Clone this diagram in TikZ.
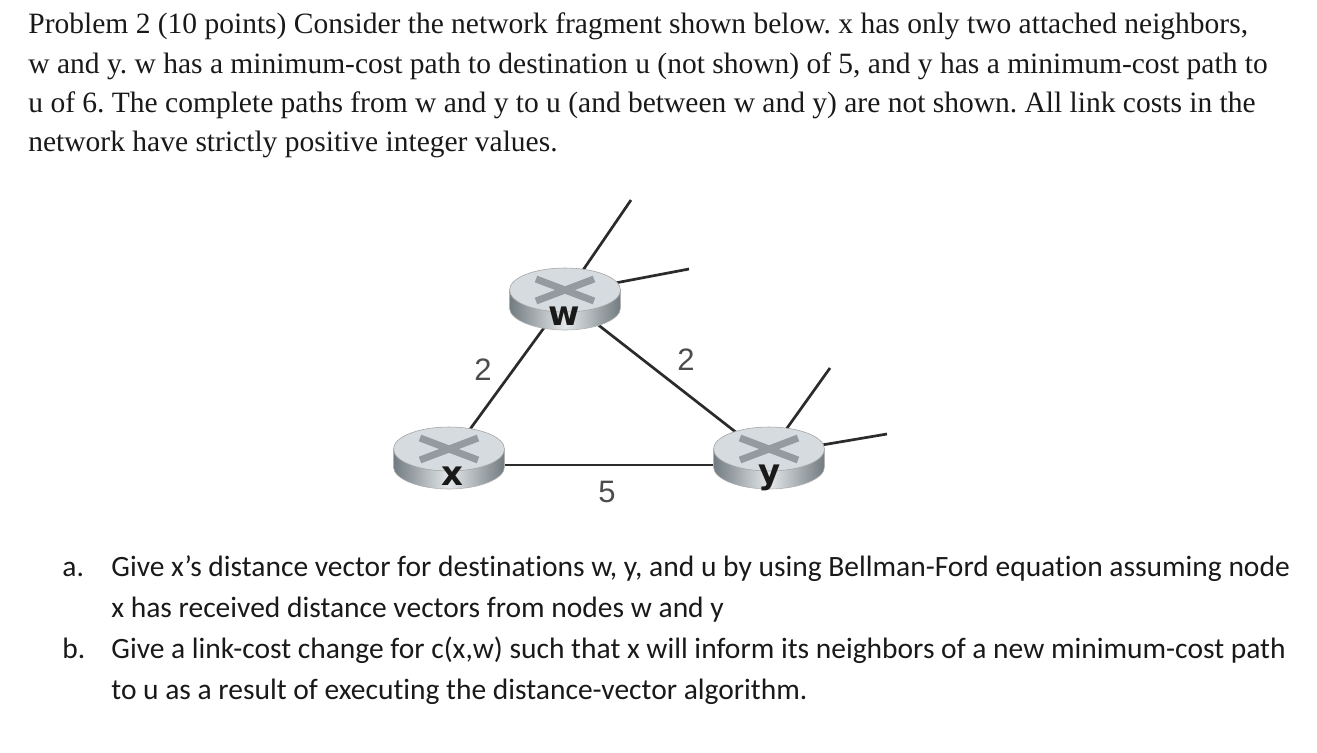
\documentclass[tikz,border=0pt]{standalone}
\usepackage{fontspec}
\setmainfont{Liberation Serif}
\setsansfont{Liberation Sans}
\newfontfamily\bodyfont[Ligatures=NoCommon]{Carlito}
\newfontfamily\labelfont{DejaVu Sans}
\usetikzlibrary{shapes.geometric}
\definecolor{router_top}{HTML}{D6DBDF}
\definecolor{router_dark}{HTML}{727B80}
\definecolor{router_light}{HTML}{E4E8EA}
\definecolor{router_cross}{HTML}{939BA0}
\definecolor{link_col}{HTML}{2B2B2B}
\tikzstyle{router_node} = [ellipse, minimum width=55.5pt, minimum height=31pt, inner sep=0pt, outer sep=0pt]
\tikzstyle{link_line} = [draw=link_col, line width=1.35pt]
\tikzstyle{cost_label} = [font=\sffamily\fontsize{15.5}{18}\selectfont, text=black!70, inner sep=0pt]
\tikzstyle{router_label} = [font=\labelfont\bfseries\fontsize{17}{20}\selectfont, text=black!90, anchor=base, inner sep=0pt]
\tikzstyle{problem_text} = [font=\frenchspacing\fontsize{14.75}{18}\selectfont, text=black!90, anchor=base west, inner sep=0pt]
\tikzstyle{part_text} = [font=\bodyfont\fontsize{14.75}{18}\selectfont, text=black!90, anchor=base west, inner sep=0pt]

\begin{document}
\begin{tikzpicture}[x=0.5pt, y=-0.5pt]
\useasboundingbox (0,0) rectangle (1317,752);

\node (line1) [problem_text] at (28,33) {Problem 2 (10 points) Consider the network fragment shown below. x has only two attached neighbors,};
\node (line2) [problem_text] at (28,73) {w and y. w has a minimum-cost path to destination u (not shown) of 5, and y has a minimum-cost path to};
\node (line3) [problem_text] at (28,112) {u of 6. The complete paths from w and y to u (and between w and y) are not shown. All link costs in the};
\node (line4) [problem_text] at (28,151) {network have strictly positive integer values.};

\node (w) [router_node] at (565,299) {};
\node (x) [router_node] at (449,458) {};
\node (y) [router_node] at (769,458) {};
\coordinate (w_up) at (631,200);
\coordinate (w_right) at (689,269);
\coordinate (y_up) at (830,368);
\coordinate (y_right) at (887,434);

% Links first, the routers go on top
\draw [link_line] (x) -- (w);
\draw [link_line] (w) -- (y);
\draw [link_line] ([yshift=-3.5pt]x.east) -- ([yshift=-3.5pt]y.west);
\draw [link_line] (w.58) -- (w_up);
\draw [link_line] (w.18) -- (w_right);
\draw [link_line] (y.59) -- (y_up);
\draw [link_line] (y.14) -- (y_right);

\foreach \r in {w,x,y} {
  \begin{scope}[shift={(\r)}]
    \path [left color=router_dark, right color=router_dark, middle color=router_light, draw=gray!60, line width=0.3pt]
      (-55.5,-9) -- (-55.5,9) .. controls (-55.5,21) and (-30,31) .. (0,31) .. controls (30,31) and (55.5,21) .. (55.5,9) -- (55.5,-9) -- cycle;
    \fill [router_top, draw=gray!70, line width=0.3pt] (0,-9) ellipse [x radius=55.5, y radius=22];
    \draw [router_cross, line width=3.5pt] (-29,2) -- (29,-20);
    \draw [router_cross, line width=3.5pt] (-29,-20) -- (29,2);
  \end{scope}
}

\node (w_name) [router_label] at (564,325) {w};
\node (x_name) [router_label] at (452,485) {x};
\node (y_name) [router_label] at (770,483) {y};
\node (cost_wx) [cost_label] at (483,370) {2};
\node (cost_wy) [cost_label] at (686,360) {2};
\node (cost_xy) [cost_label] at (607,492) {5};

\node (a_mark) [part_text] at (62,576) {a.};
\node (a_line1) [part_text] at (111,576) {Give x’s distance vector for destinations w, y, and u by using Bellman-Ford equation assuming node};
\node (a_line2) [part_text] at (111,617) {x has received distance vectors from nodes w and y};
\node (b_mark) [part_text] at (62,658) {b.};
\node (b_line1) [part_text] at (111,658) {Give a link-cost change for c(x,w) such that x will inform its neighbors of a new minimum-cost path};
\node (b_line2) [part_text] at (111,699) {to u as a result of executing the distance-vector algorithm.};
\end{tikzpicture}
\end{document}
